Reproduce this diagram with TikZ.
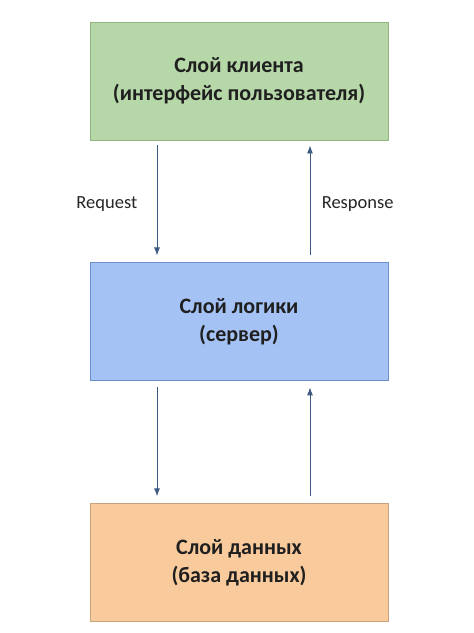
\documentclass[tikz,border=0pt]{standalone}
\usepackage{fontspec}
\setmainfont{Carlito}
\usetikzlibrary{arrows.meta, positioning, calc}
\definecolor{clientFill}{HTML}{B6D7A8}
\definecolor{clientLine}{HTML}{93B383}
\definecolor{logicFill}{HTML}{A4C2F4}
\definecolor{logicLine}{HTML}{6D8FC9}
\definecolor{dataFill}{HTML}{F9CB9C}
\definecolor{dataLine}{HTML}{C9A27E}
\definecolor{flowLine}{HTML}{3D5A80}
\tikzset{
  layer/.style = {
    draw,
    line width=0.9pt,
    align=center,
    minimum width=298pt,
    minimum height=118pt,
    text=black!88,
    font=\fontsize{22}{28}\selectfont\bfseries,
  },
  flow/.style = {
    -{Latex[length=8pt, width=6pt]},
    draw=flowLine,
    line width=0.9pt,
  },
  onArrow/.style = {
    font=\fontsize{18.5}{22}\selectfont,
    text=black!85,
    yshift=-4pt,
  },
  node distance=122pt,
}
\begin{document}
\begin{tikzpicture}[x=1pt, y=1pt]
\useasboundingbox (0,0) rectangle (474,-633);

\node(Client)[layer, fill=clientFill, draw=clientLine] at (239,-81) {
  Слой клиента\\
  (интерфейс пользователя)
};

\node(Logic)[layer, fill=logicFill, draw=logicLine, below=of Client] {
  Слой логики\\
  (сервер)
};

\node(Data)[layer, fill=dataFill, draw=dataLine, below=of Logic] {
  Слой данных\\
  (база данных)
};

\draw[flow] ([xshift=-82pt, yshift=-5pt]Client.south)
  -- node[onArrow, left=16pt] {Request} ([xshift=-82pt, yshift=7pt]Logic.north);
\draw[flow] ([xshift=71pt, yshift=7pt]Logic.north)
  -- node[onArrow, right=8pt] {Response} ([xshift=71pt, yshift=-5pt]Client.south);

\draw[flow] ([xshift=-82pt, yshift=-6pt]Logic.south)
  -- ([xshift=-82pt, yshift=7pt]Data.north);
\draw[flow] ([xshift=71pt, yshift=7pt]Data.north)
  -- ([xshift=71pt, yshift=-6pt]Logic.south);

\end{tikzpicture}
\end{document}
